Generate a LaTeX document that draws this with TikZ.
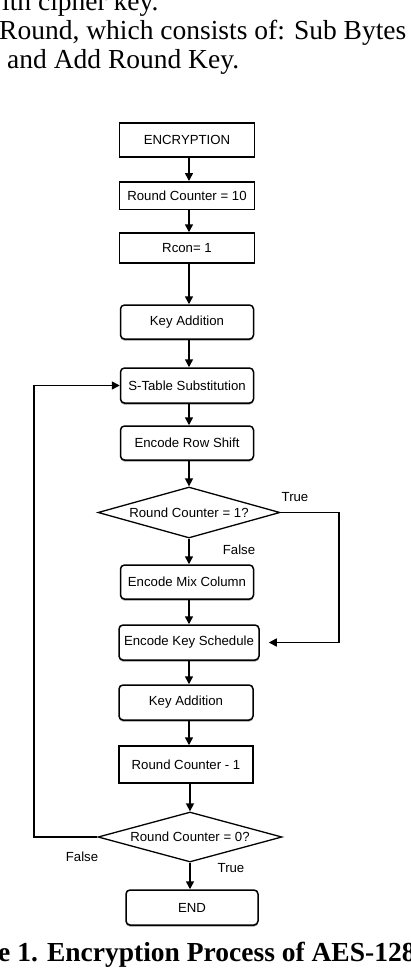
\documentclass[tikz,border=0pt]{standalone}
\usepackage{fontspec}
\setmainfont{Liberation Serif}
\newfontfamily\arialf{Liberation Sans}
\usetikzlibrary{arrows.meta,shapes.geometric,calc,shadows}
\begin{document}
\begin{tikzpicture}[x=1pt,y=-1pt,
  sqbox/.style={draw,fill=white,line width=1.5pt,minimum width=135pt,inner sep=0pt,font=\arialf\fontsize{13.2}{15}\selectfont},
  rbox/.style={sqbox,rounded corners=4pt,drop shadow={shadow xshift=0pt,shadow yshift=-1.6pt,fill=gray!80,opacity=1}},
  dec/.style={draw,diamond,shape aspect=3.6,line width=1.3pt,inner sep=0pt,minimum width=182pt,minimum height=51pt,font=\arialf\fontsize{13.2}{15}\selectfont},
  arr/.style={line width=1.5pt,-{Triangle[length=8pt,width=8pt]}},
  lbl/.style={font=\arialf\fontsize{13.2}{15}\selectfont,inner sep=0pt},
  bodytext/.style={font=\fontsize{27.5}{30}\selectfont,inner sep=0pt,anchor=base west},
  captext/.style={font=\bfseries\fontsize{27.5}{30}\selectfont,inner sep=0pt,anchor=base west}
]
\useasboundingbox[fill=white] (0,0) rectangle (410,974);
\begin{scope}
\clip (0,0) rectangle (410,974);
\node[bodytext] (t1) at (2,11) {ith cipher key.};
\node[bodytext] (t2) at (-1,40) {Round, which consists of: Sub Bytes};
\node[bodytext] (t3) at (7,69) {and Add Round Key.};
\node[captext] (cap) at (-2,961) {e 1. Encryption Process of AES-128};
\end{scope}

\coordinate (axis) at (189,0);
\coordinate (lft) at (34,0);
\coordinate (rgt) at (339,0);

\node[sqbox,minimum height=34pt] (enc) at (187,140) {ENCRYPTION};
\node[sqbox,minimum height=27.5pt] (rc10) at (187,195.5) {Round Counter = 10};
\node[sqbox,minimum height=30pt] (rcon) at (187,248) {Rcon= 1};
\node[rbox,minimum height=34pt,minimum width=133pt] (ka1) at (187,322) {Key Addition};
\node[rbox,minimum height=35pt,minimum width=133pt] (st) at (187,385.5) {S-Table Substitution};
\node[rbox,minimum height=34pt,minimum width=133pt] (rs) at (187,443) {Encode Row Shift};
\node[dec] (d1) at (189,512.5) {Round Counter = 1?};
\node[rbox,minimum height=34pt,minimum width=133pt] (mc) at (187,582) {Encode Mix Column};
\node[rbox,minimum height=35pt,minimum width=140pt] (ks) at (189,642.5) {Encode Key Schedule};
\node[rbox,minimum height=35pt,minimum width=134pt] (ka2) at (186,702.5) {Key Addition};
\node[sqbox,minimum height=37pt,minimum width=134pt] (rc1) at (186,764.5) {Round Counter - 1};
\node[dec,minimum width=184pt,minimum height=50pt] (d2) at (190,837) {Round Counter = 0?};
\node[rbox,minimum height=35pt,minimum width=132pt] (end) at (192,907.5) {END};

\node[lbl] (true1) at (295,497) {True};
\node[lbl] (false1) at (239,550) {False};
\node[lbl] (false2) at (82,857) {False};
\node[lbl] (true2) at (231,868) {True};

\draw[arr] (enc.south -| axis) -- (rc10.north -| axis);
\draw[arr] (rc10.south -| axis) -- (rcon.north -| axis);
\draw[arr] (rcon.south -| axis) -- (ka1.north -| axis);
\draw[arr] (ka1.south -| axis) -- (st.north -| axis);
\draw[arr] (st.south -| axis) -- (rs.north -| axis);
\draw[arr] (rs.south -| axis) -- (d1.north);
\draw[arr] (d1.south) -- (mc.north -| d1);
\draw[arr] (mc.south -| axis) -- (ks.north -| axis);
\draw[arr] (ks.south -| axis) -- (ka2.north -| axis);
\draw[arr] (ka2.south -| axis) -- (rc1.north -| axis);
\draw[arr] (rc1.south -| d2) -- (d2.north);
\draw[arr] (d2.south) -- (end.north -| d2);
\draw[arr] (d1.east) -- (d1.east -| rgt) -- (ks.east -| rgt) -- ($(ks.east)+(9,0)$);
\draw[arr] (d2.west) -- (d2.west -| lft) -- (st.west -| lft) -- (st.west);
\end{tikzpicture}
\end{document}
